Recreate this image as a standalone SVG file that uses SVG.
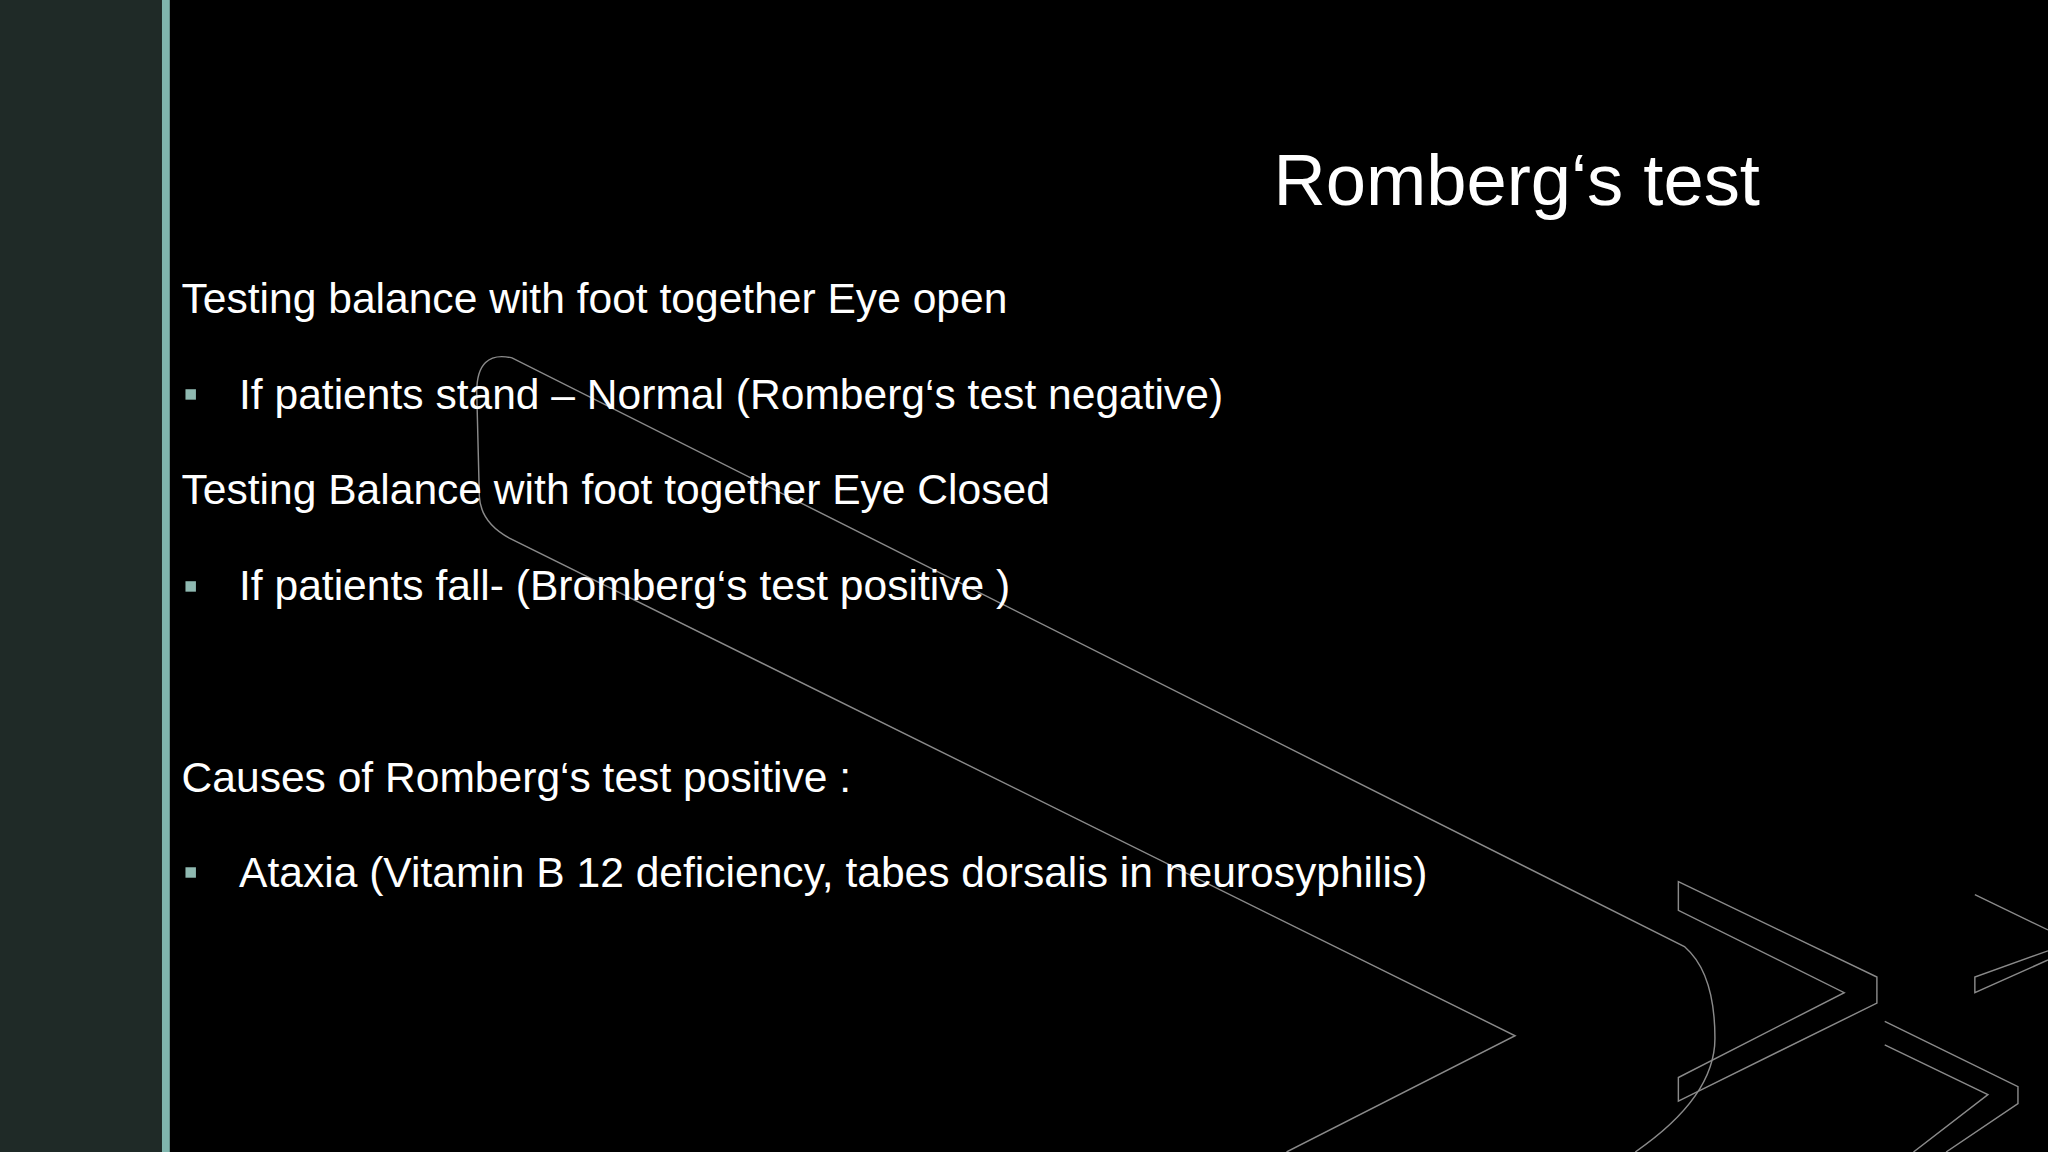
<svg xmlns="http://www.w3.org/2000/svg" width="2048" height="1152" viewBox="0 0 2048 1152">
<style>
.t{font-family:"Liberation Sans",Arial,sans-serif;fill:#fff;font-size:32.6px}
.d{fill:none;stroke:#8a8a8a;stroke-width:1.1}
.b{fill:#8fb9b1}
</style>
<rect width="2048" height="1152" fill="#000"/>
<g transform="scale(1.30612)">
<rect x="0" y="0" width="124" height="882" fill="#1f2a27"/>
<rect x="124" y="0" width="6" height="882" fill="#7fb5ad"/>
<g id="deco">
<path class="d" d="M985,882 L1160,793 L390,412 Q368,400 367,380 L365,300 Q365,268 392,274 L1290,725 Q1313,745 1313,795 Q1313,840 1252,882"/>
<path class="d" d="M1285,675 L1437,748 L1437,768 L1285,843 L1285,825 L1412,760 L1285,697 Z"/>
<path class="d" d="M1512,685 L1568,712 M1568,728 L1512,748 L1512,760 L1568,735"/>
<path class="d" d="M1443,782 L1545,832 L1545,845 L1490,882 M1443,800 L1522,838 L1465,882"/>
</g>
<g id="title"><text class="t" x="975" y="157" style="font-size:55.4px">Romberg‘s test</text></g>
<g id="body">
<text class="t" x="139" y="240">Testing balance with foot together Eye open</text>
<rect class="b" x="142" y="298" width="8" height="8"/>
<text class="t" x="183" y="313">If patients stand – Normal (Romberg‘s test negative)</text>
<text class="t" x="139" y="386">Testing Balance with foot together Eye Closed</text>
<rect class="b" x="142" y="445" width="8" height="8"/>
<text class="t" x="183" y="459">If patients fall- (Bromberg‘s test positive )</text>
<text class="t" x="139" y="606">Causes of Romberg‘s test positive :</text>
<rect class="b" x="142" y="664" width="8" height="8"/>
<text class="t" x="183" y="679">Ataxia (Vitamin B 12 deficiency, tabes dorsalis in neurosyphilis)</text>
</g>
</g>
</svg>
